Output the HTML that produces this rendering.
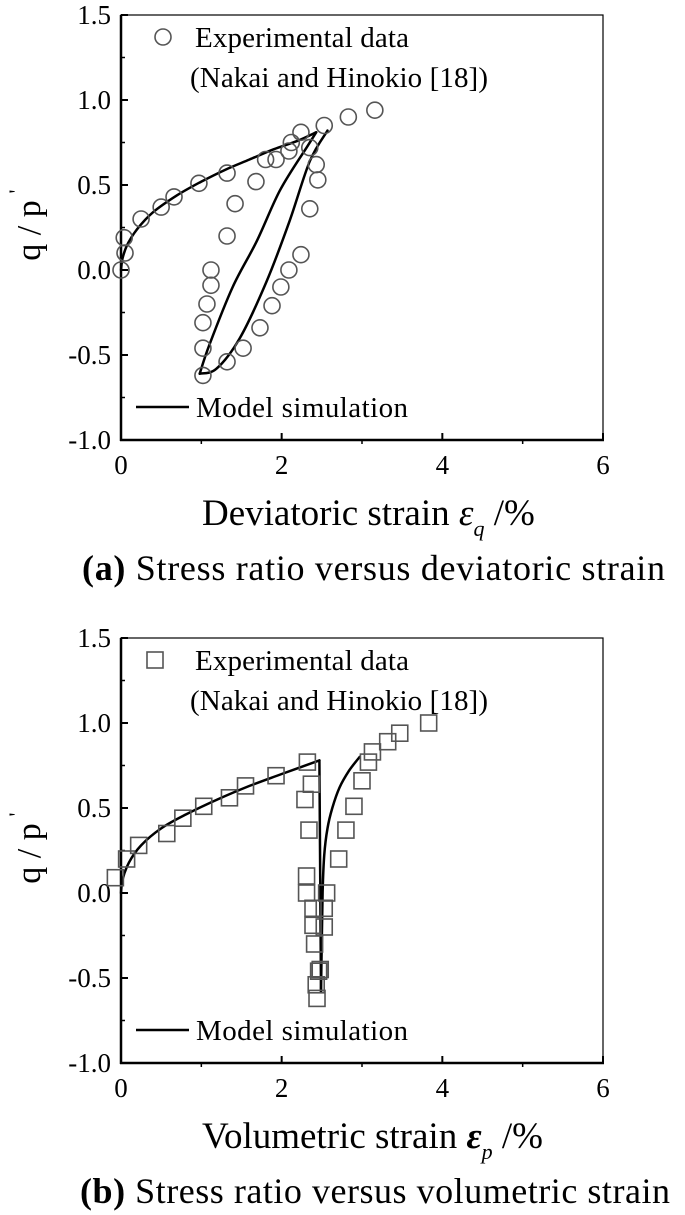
<!DOCTYPE html>
<html><head><meta charset="utf-8">
<style>
html,body{margin:0;padding:0;background:#fff;}
svg{display:block;font-family:"Liberation Serif",serif;}
</style></head>
<body>
<svg id="fig" width="685" height="1215" viewBox="0 0 685 1215" xmlns="http://www.w3.org/2000/svg"></svg>
<script>
// ---- Panel (a) data ----
const aExpX = [0,0.05,0.04,0.25,0.5,0.66,0.97,1.32,1.68,1.42,1.32,1.12,1.12,1.07,1.02,1.02,1.02,1.32,1.52,1.73,1.88,1.99,2.09,2.24,2.35,2.45,2.43,1.8,1.93,2.09,2.12,2.24,2.35,2.53,2.83,3.16];
const aExpY = [0,0.1,0.19,0.3,0.37,0.43,0.51,0.57,0.52,0.39,0.2,0.0,-0.09,-0.2,-0.31,-0.46,-0.62,-0.54,-0.46,-0.34,-0.21,-0.1,0.0,0.09,0.36,0.53,0.62,0.65,0.65,0.7,0.75,0.81,0.72,0.85,0.9,0.94];
const aLoadX = [0,0.02,0.08,0.2,0.4,0.7,1.0,1.3,1.6,1.9,2.2,2.43];
const aLoadY = [0,0.07,0.15,0.24,0.34,0.44,0.52,0.59,0.65,0.71,0.76,0.81];
const aUnX = [2.43,2.31,1.98,1.69,1.39,1.1,0.98];
const aUnY = [0.81,0.72,0.47,0.17,-0.1,-0.44,-0.61];
const aReX = [0.98,1.19,1.48,1.81,2.1,2.35,2.57];
const aReY = [-0.61,-0.58,-0.4,-0.07,0.29,0.64,0.82];
// ---- Panel (b) data ----
const bExpX = [-0.07,0.07,0.22,0.57,0.77,1.03,1.35,1.55,1.93,2.32,2.37,2.29,2.34,2.31,2.31,2.39,2.39,2.41,2.46,2.43,2.44,2.56,2.53,2.53,2.48,2.71,2.8,2.9,3.0,3.08,3.13,3.32,3.47,3.83];
const bExpY = [0.09,0.2,0.28,0.35,0.44,0.51,0.56,0.63,0.69,0.77,0.64,0.55,0.37,0.1,0.0,-0.09,-0.19,-0.3,-0.46,-0.54,-0.62,0.0,-0.09,-0.2,-0.45,0.2,0.37,0.51,0.66,0.77,0.83,0.89,0.94,1.0];
const bLoadX = [0,0.02,0.1,0.25,0.5,0.8,1.2,1.6,2.0,2.47];
const bLoadY = [0,0.08,0.18,0.28,0.38,0.46,0.55,0.63,0.7,0.78];
const bUnX = [2.47,2.49];
const bUnY = [0.78,-0.58];
const bReX = [2.49,2.51,2.53,2.57,2.63,2.72,2.84,2.97];
const bReY = [-0.58,0.0,0.22,0.38,0.5,0.62,0.72,0.8];
const xTicks = ["0","2","4","6"];
const yTicks = ["-1.0","-0.5","0.0","0.5","1.0","1.5"];

const NS="http://www.w3.org/2000/svg";
const svg=document.getElementById('fig');
function mk(tag,attrs,parent,text){const e=document.createElementNS(NS,tag);for(const k in attrs)e.setAttribute(k,attrs[k]);if(text!==undefined)e.textContent=text;(parent||svg).appendChild(e);return e;}
function smooth(pts){
  if(pts.length<3){return 'M'+pts.map(p=>p[0].toFixed(1)+','+p[1].toFixed(1)).join('L');}
  let d='M'+pts[0][0].toFixed(1)+','+pts[0][1].toFixed(1);
  for(let i=0;i<pts.length-1;i++){
    const p0=pts[Math.max(0,i-1)],p1=pts[i],p2=pts[i+1],p3=pts[Math.min(pts.length-1,i+2)];
    const c1=[p1[0]+(p2[0]-p0[0])/6,p1[1]+(p2[1]-p0[1])/6];
    const c2=[p2[0]-(p3[0]-p1[0])/6,p2[1]-(p3[1]-p1[1])/6];
    d+='C'+c1[0].toFixed(1)+','+c1[1].toFixed(1)+' '+c2[0].toFixed(1)+','+c2[1].toFixed(1)+' '+p2[0].toFixed(1)+','+p2[1].toFixed(1);
  }
  return d;
}

function panel(cfg){
  const L=121,R=603,T=cfg.top,B=cfg.top+425;
  const sx=v=>L+(v-0)/6*(R-L);
  const sy=v=>B-(v+1)/2.5*(B-T);
  const g=mk('g',{});
  
  
  const fr=mk('rect',{x:L,y:T,width:R-L,height:B-T,fill:'none',stroke:'#000','stroke-width':1.2},g);
  
  const ya=mk('line',{x1:L,y1:T,x2:L,y2:B+1,stroke:'#000','stroke-width':2.5},g);
  
  const xa=mk('line',{x1:L-1,y1:B,x2:R+1,y2:B,stroke:'#000','stroke-width':2.5},g);
  
  for(let i=0;i<yTicks.length;i++){
    const v=parseFloat(yTicks[i]);const y=sy(v);
    mk('line',{x1:L,y1:y,x2:L+7,y2:y,stroke:'#000','stroke-width':2},g);
    if(i<yTicks.length-1) mk('line',{x1:L,y1:sy(v+0.25),x2:L+4,y2:sy(v+0.25),stroke:'#000','stroke-width':1.5},g);
    const t=mk('text',{x:L-10,y:y+9,'text-anchor':'end','font-size':27},g,yTicks[i]);
    
  }
  for(let i=0;i<xTicks.length;i++){
    const v=parseFloat(xTicks[i]);const x=sx(v);
    mk('line',{x1:x,y1:B,x2:x,y2:B-7,stroke:'#000','stroke-width':2},g);
    if(i<xTicks.length-1) mk('line',{x1:sx(v+1),y1:B,x2:sx(v+1),y2:B+4,stroke:'#000','stroke-width':1.5},g);
    const t=mk('text',{x:x,y:B+34,'text-anchor':'middle','font-size':27},g,xTicks[i]);
    
  }
  cfg.segs.forEach(s=>{
    const pts=s[0].map((x,i)=>[sx(x),sy(s[1][i])]);
    const p=mk('path',{d:smooth(pts),fill:'none',stroke:'#000','stroke-width':2.5,'stroke-linejoin':'round','stroke-linecap':'round'},g);
    
  });
  for(let i=0;i<cfg.ex.length;i++){
    const x=sx(cfg.ex[i]),y=sy(cfg.ey[i]);let m;
    if(cfg.marker==='circle') m=mk('circle',{cx:x,cy:y,r:8,fill:'none',stroke:'#555','stroke-width':1.6},g);
    else m=mk('rect',{x:x-8,y:y-8,width:16,height:16,fill:'none',stroke:'#555','stroke-width':1.6},g);
    
  }
  let lm;
  if(cfg.marker==='circle') lm=mk('circle',{cx:163,cy:T+22,r:8,fill:'none',stroke:'#555','stroke-width':1.6},g);
  else lm=mk('rect',{x:147,y:T+14,width:16,height:16,fill:'none',stroke:'#555','stroke-width':1.6},g);
  
  const l1=mk('text',{x:195,y:T+32,'font-size':29,textLength:214},g,'Experimental data');
  
  const l2=mk('text',{x:190,y:T+72,'font-size':29,textLength:298},g,'(Nakai and Hinokio [18])');
  
  const ll=mk('line',{x1:136,y1:B-33,x2:189,y2:B-33,stroke:'#000','stroke-width':2.5},g);
  
  const l3=mk('text',{x:196,y:B-23,'font-size':29,textLength:212},g,'Model simulation');
  
  const cy=(T+B)/2;
  const yt=mk('text',{x:0,y:0,'font-size':34,transform:`translate(40,${cy+3}) rotate(-90)`,'text-anchor':'middle'},g,'q / p');
  
  const ap=mk('text',{x:0,y:0,'font-size':22,transform:`translate(24,${cy-34}) rotate(-90)`},g,"'");
  
  const xt=mk('text',{x:202,y:B+85,'font-size':37},g);
  
  mk('tspan',{},xt,cfg.xt+' ');
  mk('tspan',{'font-style':'italic','font-weight':cfg.bold?'bold':'normal'},xt,'ε');
  mk('tspan',{'font-style':'italic','font-size':22,dy:11},xt,cfg.sub);
  mk('tspan',{dy:-11},xt,' /%');
  const cap=mk('text',{x:cfg.capX,y:B+140,'font-size':36,textLength:cfg.capW},g);
  
  mk('tspan',{'font-weight':'bold'},cap,cfg.lab);
  mk('tspan',{},cap,' '+cfg.cap);
}
panel({name:'panel-a',top:15,ex:aExpX,ey:aExpY,segs:[[aLoadX,aLoadY],[aUnX,aUnY],[aReX,aReY]],marker:'circle',xt:'Deviatoric strain',sub:'q',bold:false,lab:'(a)',cap:'Stress ratio versus deviatoric strain',capX:82,capW:583});
panel({name:'panel-b',top:638,ex:bExpX,ey:bExpY,segs:[[bLoadX,bLoadY],[bUnX,bUnY],[bReX,bReY]],marker:'square',xt:'Volumetric strain',sub:'p',bold:true,lab:'(b)',cap:'Stress ratio versus volumetric strain',capX:80,capW:590});
</script>
</body></html>
